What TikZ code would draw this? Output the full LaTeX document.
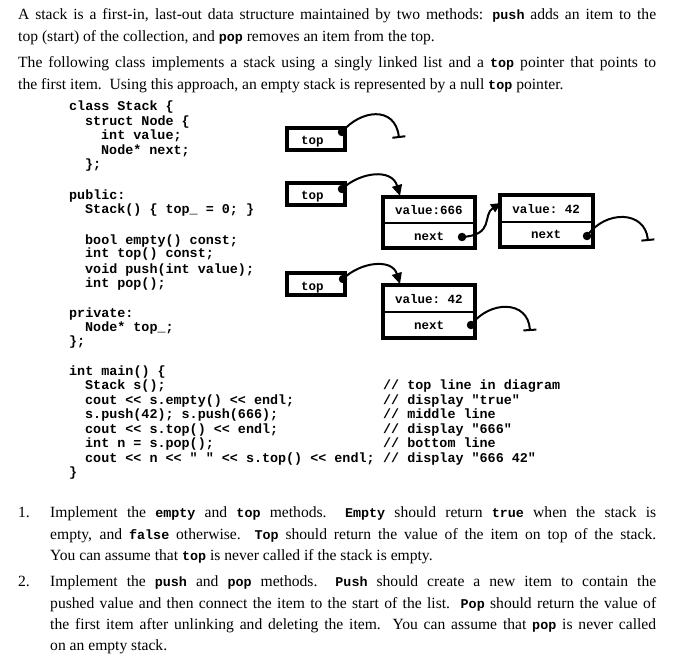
\documentclass[tikz,border=0pt]{standalone}
\usepackage{fontspec}
\setmainfont{Liberation Serif}
\setmonofont{Liberation Mono}
\usetikzlibrary{arrows.meta}
\newcommand{\cw}[1]{{\ttfamily\bfseries\fontsize{13.4}{14}\selectfont #1}}
\newcommand{\jl}[2]{\makebox[#1][s]{#2}}
\tikzset{
  txt/.style={anchor=base west,inner sep=0pt,font=\fontsize{15.6}{17}\selectfont},
  code/.style={anchor=base west,inner sep=0pt,font=\ttfamily\bfseries\fontsize{13.4}{14}\selectfont},
  box/.style={draw,line width=3.4pt,inner sep=0pt},
  lbl/.style={inner sep=0pt,font=\ttfamily\bfseries\fontsize{12.5}{13}\selectfont},
  ptr/.style={line width=2pt},
  dot/.style={circle,fill,inner sep=0pt,minimum size=8.5pt},
}
\begin{document}
\begin{tikzpicture}[x=1pt,y=-1pt]
\useasboundingbox (0,0) rectangle (680,663);
% paragraphs
\node[txt] (p1) at (18,20) {\jl{638pt}{A stack is a first-in, last-out data structure maintained by two methods: \cw{push} adds an item to the}};
\node[txt] (p2) at (18,42) {top (start) of the collection, and \cw{pop} removes an item from the top.};
\node[txt] (p3) at (18,68) {\jl{638pt}{The following class implements a stack using a singly linked list and a \cw{top} pointer that points to}};
\node[txt] (p4) at (18,90) {the first item.\ \ Using this approach, an empty stack is represented by a null \cw{top} pointer.};
% code
\foreach \x/\y/\t in {69/111/{class Stack \{}, 85/126/{struct Node \{}, 101/140/{int value;}, 101/155/{Node* next;}, 85/169/{\};},
  69/200/{public:}, 85/214/{Stack() \{ top\_ = 0; \}}, 85/244/{bool empty() const;}, 85/258/{int top() const;}, 85/273/{void push(int value);}, 85/287/{int pop();},
  69/317/{private:}, 85/331/{Node* top\_;}, 69/345/{\};},
  69/375/{int main() \{}, 85/389/{Stack s();}, 85/404/{cout << s.empty() << endl;}, 85/418/{s.push(42); s.push(666);}, 85/433/{cout << s.top() << endl;}, 85/447/{int n = s.pop();}, 85/462/{cout << n << "\ " << s.top() << endl;}, 69/476/{\}}}
  \node[code] at (\x,\y) {\t};
\foreach \y/\t in {389/{// top line in diagram}, 404/{// display "true"}, 418/{// middle line}, 433/{// display "666"}, 447/{// bottom line}, 462/{// display "666 42"}}
  \node[code] at (383,\y) {\t};
% items
\node[txt] (n1) at (18,517) {1.};
\node[txt] (i1a) at (50,517) {\jl{606pt}{Implement the \cw{empty} and \cw{top} methods.\ \ \cw{Empty} should return \cw{true} when the stack is}};
\node[txt] (i1b) at (50,539) {\jl{606pt}{empty, and \cw{false} otherwise.\ \ \cw{Top} should return the value of the item on top of the stack.}};
\node[txt] (i1c) at (50,560) {You can assume that \cw{top} is never called if the stack is empty.};
\node[txt] (n2) at (18,586) {2.};
\node[txt] (i2a) at (50,586) {\jl{606pt}{Implement the \cw{push} and \cw{pop} methods.\ \ \cw{Push} should create a new item to contain the}};
\node[txt] (i2b) at (50,608) {\jl{606pt}{pushed value and then connect the item to the start of the list.\ \ \cw{Pop} should return the value of}};
\node[txt] (i2c) at (50,629) {\jl{606pt}{the first item after unlinking and deleting the item.\ \ You can assume that \cw{pop} is never called}};
\node[txt] (i2d) at (50,650) {on an empty stack.};
% diagram: top boxes
\foreach \n/\y in {t1/128,t2/183,t3/273}{
  \draw[box] (287,\y) rectangle (345,\y+22);
  \node[lbl,anchor=base west] (\n) at (301,\y+17) {top};
}
\node[dot] (d1) at (342,132) {};
\node[dot] (d2) at (342,189) {};
\node[dot] (d3) at (343,279) {};
% node boxes
\draw[box] (383,197) rectangle (475,248); \draw[line width=2pt] (383,223) -- (475,223);
\node[lbl] (v1) at (429,210) {value:666}; \node[lbl] (x1) at (429,236) {next};
\draw[box] (500,195) rectangle (593,247); \draw[line width=2pt] (500,222) -- (593,222);
\node[lbl] (v2) at (546,209) {value:\ 42}; \node[lbl] (x2) at (546,234) {next};
\draw[box] (383,285) rectangle (475,338); \draw[line width=2pt] (383,312) -- (475,312);
\node[lbl] (v3) at (429,299) {value:\ 42}; \node[lbl] (x3) at (429,325) {next};
\node[dot] (d4) at (462,237) {};
\node[dot] (d5) at (587,236) {};
\node[dot] (d6) at (471,325) {};
\coordinate (e1) at (399,138); \coordinate (e5) at (648,241); \coordinate (e6) at (530,331);
\coordinate (a2) at (400,196); \coordinate (a3) at (400,284); \coordinate (a4) at (501,203);
% pointers
\draw[ptr,-{Bar[width=13pt]}] (d1.center) .. controls (360,110) and (395,105) .. (e1);
\draw[ptr,-{Triangle[length=11pt,width=10pt]}] (d2.center) .. controls (360,172) and (392,168) .. (a2);
\draw[ptr,-{Triangle[length=11pt,width=10pt]}] (d3.center) .. controls (360,262) and (392,258) .. (a3);
\draw[ptr,-{Triangle[length=10pt,width=9pt]}] (d4.center) .. controls (495,235) and (482,215) .. (a4);
\draw[ptr,-{Bar[width=13pt]}] (d5.center) .. controls (605,210) and (645,210) .. (e5);
\draw[ptr,-{Bar[width=13pt]}] (d6.center) .. controls (490,300) and (528,300) .. (e6);
\end{tikzpicture}
\end{document}
